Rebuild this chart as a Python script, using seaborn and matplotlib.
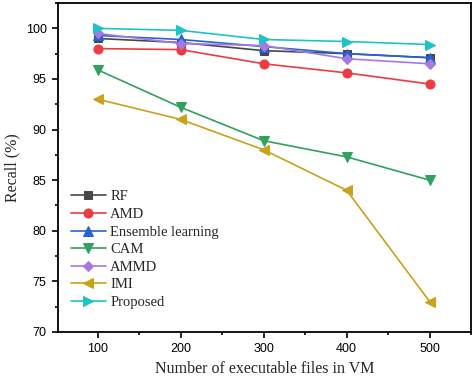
import pandas as pd
import matplotlib
matplotlib.use("Agg")
import matplotlib.pyplot as plt
import seaborn as sns
from matplotlib.ticker import MultipleLocator

# data
files = [100, 200, 300, 400, 500]
rf = [99.0, 98.6, 97.8, 97.5, 97.1]
amd = [98.0, 97.9, 96.5, 95.6, 94.5]
ensemble = [99.3, 98.9, 98.2, 97.5, 97.1]
cam = [95.9, 92.2, 88.9, 87.3, 85.0]
ammd = [99.5, 98.5, 98.3, 97.0, 96.5]
imi = [93.0, 91.0, 88.0, 84.0, 73.0]
proposed = [100.0, 99.8, 98.9, 98.7, 98.4]

methods = ["RF", "AMD", "Ensemble learning", "CAM", "AMMD", "IMI", "Proposed"]
series = [rf, amd, ensemble, cam, ammd, imi, proposed]
colors = ["#474747", "#ec3b43", "#2164d8", "#33a060", "#a679e0", "#c9a21a", "#1ec3c8"]
markers = ["s", "o", "^", "v", "D", "<", ">"]
sizes = [5.5, 6.5, 6.5, 6.5, 5.5, 6.5, 6.5]

rows = []
for name, vals in zip(methods, series):
    for f, v in zip(files, vals):
        rows.append({"files": f, "recall": v, "method": name})
data = pd.DataFrame(rows)

sns.set_style("ticks")
fig = plt.figure(figsize=(4.74, 3.82), dpi=100)
ax = fig.add_axes([0.122, 0.131, 0.872, 0.861])

for name, c, m, s in zip(methods, colors, markers, sizes):
    sns.lineplot(data=data[data["method"] == name], x="files", y="recall",
                 color=c, marker=m, markersize=s, markeredgecolor=c,
                 linewidth=1.2, label=name, ax=ax)

ax.set_xlim(52, 550)
ax.set_ylim(70, 102.5)
ax.set_xticks(files)
ax.xaxis.set_minor_locator(MultipleLocator(50))
ax.set_yticks([70, 75, 80, 85, 90, 95, 100])
ax.yaxis.set_minor_locator(MultipleLocator(2.5))
ax.tick_params(which="both", direction="out", width=1.2, colors="black")
ax.tick_params(which="major", length=4.5)
ax.tick_params(which="minor", length=2.5)
for lbl in ax.get_xticklabels() + ax.get_yticklabels():
    lbl.set_family("Liberation Sans")
    lbl.set_fontsize(9)
for sp in ax.spines.values():
    sp.set_linewidth(1.3)
    sp.set_color("black")

ax.set_xlabel("Number of executable files in VM", family="Liberation Serif", fontsize=11.5)
ax.set_ylabel("Recall (%)", family="Liberation Serif", fontsize=11.5)

ax.legend(loc="lower left", bbox_to_anchor=(0.0, 0.03), frameon=False,
          prop={"family": "Liberation Serif", "size": 10.5},
          handlelength=2.4, handletextpad=0.3, labelspacing=0.3)

plt.savefig("out.png", dpi=100)
